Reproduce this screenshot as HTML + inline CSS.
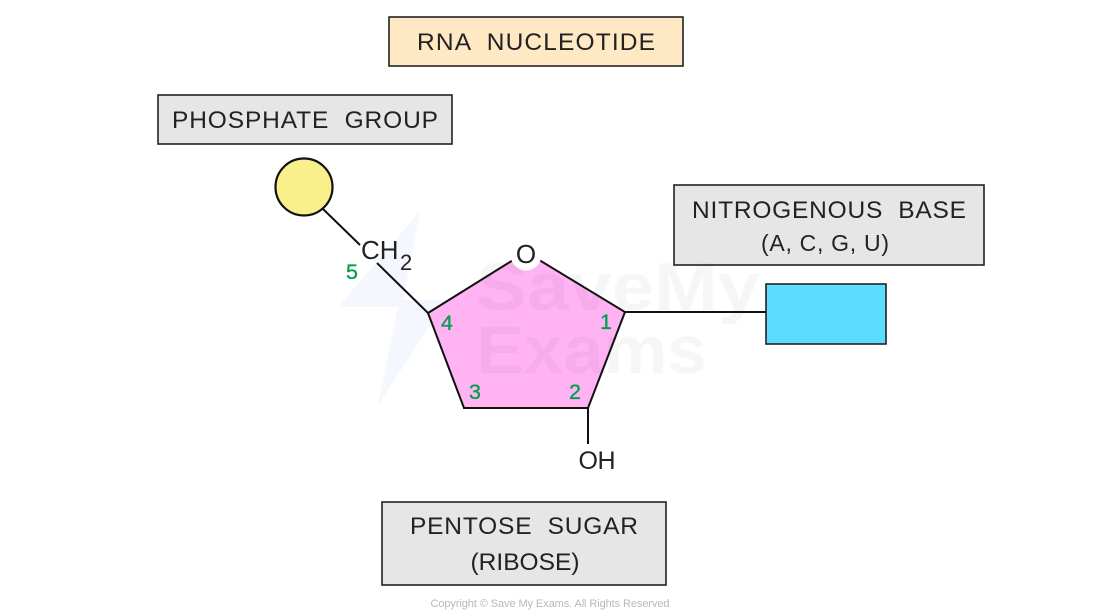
<!DOCTYPE html>
<html><head><meta charset="utf-8"><style>
html,body{margin:0;padding:0;background:#fff}
svg{display:block}
text{font-family:"Liberation Sans",sans-serif}
.l{font-size:24.5px;fill:#222;text-anchor:middle;white-space:pre}
.g{font-size:21.5px;fill:#00a04f;stroke:#00a04f;stroke-width:.35;text-anchor:middle}
.b{stroke:#222;stroke-width:1.6}
.wm{font-weight:700;fill:#000;opacity:.03;font-size:68px}
</style></head><body>
<svg width="1100" height="616" viewBox="0 0 1100 616">
<rect width="1100" height="616" fill="#fff"/>
<polygon points="420,211 338,307 398,307 378,405 447,300 403,300" fill="#f4f7fe"/>
<rect x="389" y="17" width="294" height="49" fill="#ffe9c4" class="b"/>
<rect x="158" y="95" width="294" height="49" fill="#e6e6e6" class="b"/>
<rect x="674" y="185" width="310" height="80" fill="#e6e6e6" class="b"/>
<rect x="382" y="502" width="284" height="83" fill="#e6e6e6" class="b"/>
<rect x="766" y="284" width="120" height="60" fill="#5cdcff" class="b"/>
<circle cx="304" cy="187" r="28.5" fill="#f9ef8b" stroke="#111" stroke-width="2.2"/>
<polygon points="428,313 526,252 625,312 588,408 464,408" fill="#ffb3f3" stroke="#111" stroke-width="2"/>
<circle cx="526" cy="255" r="15.5" fill="#fff"/>
<path d="M323 209 L360 245 M377 263 L428 313 M625 312 H766 M588 408 V444" stroke="#111" stroke-width="2" fill="none"/>
<text class="wm" x="476" y="310" textLength="284" lengthAdjust="spacingAndGlyphs">SaveMy</text>
<text class="wm" x="476" y="373" textLength="231" lengthAdjust="spacingAndGlyphs">Exams</text>
<text class="l" x="536" y="50" textLength="238">RNA  NUCLEOTIDE</text>
<text class="l" x="305" y="128" textLength="266">PHOSPHATE  GROUP</text>
<text class="l" x="829" y="218" textLength="274">NITROGENOUS  BASE</text>
<text class="l" x="825" y="251" textLength="128" style="font-size:23px">(A, C, G, U)</text>
<text class="l" x="524" y="534" textLength="228">PENTOSE  SUGAR</text>
<text class="l" x="525" y="570" textLength="109">(RIBOSE)</text>
<text x="361" y="259" font-size="26" fill="#222">CH</text>
<text x="400" y="270" font-size="22" fill="#222">2</text>
<text x="526" y="263" font-size="26" fill="#222" text-anchor="middle">O</text>
<text x="597" y="469" font-size="25" fill="#222" text-anchor="middle" textLength="37">OH</text>
<text class="g" x="352" y="279">5</text>
<text class="g" x="447" y="330">4</text>
<text class="g" x="606" y="329">1</text>
<text class="g" x="575" y="399">2</text>
<text class="g" x="475" y="399">3</text>
<text x="550" y="607" font-size="11" fill="#b8b8b8" text-anchor="middle" textLength="239">Copyright © Save My Exams. All Rights Reserved</text>
</svg>
</body></html>
